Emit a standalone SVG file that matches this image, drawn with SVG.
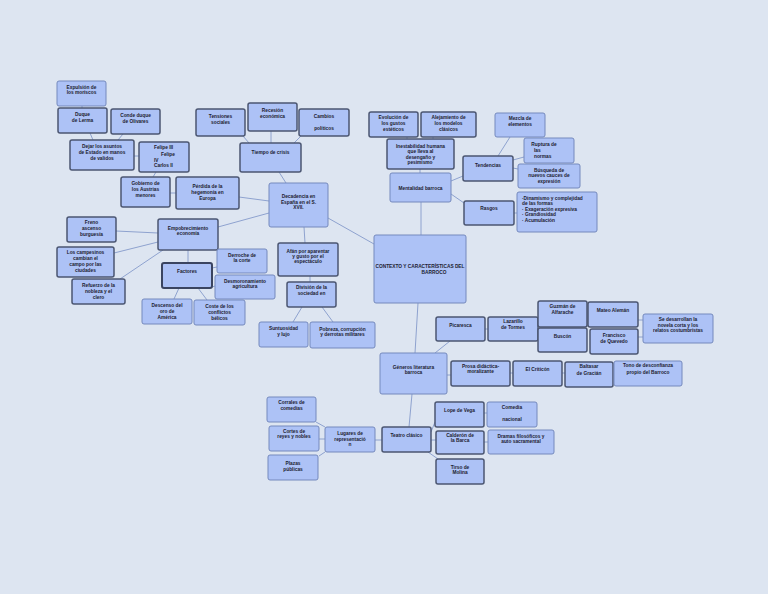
<svg xmlns="http://www.w3.org/2000/svg" width="768" height="594" viewBox="0 0 768 594">
<style>
.bg{fill:#dde5f1}
.n{fill:#adc2f6;stroke:#7489bd;stroke-width:1}
.d{fill:#adc2f6;stroke:#4b5672;stroke-width:1.5}
.k{fill:#adc2f6;stroke:#3a4460;stroke-width:2}
text{font-family:"Liberation Sans",Arial,sans-serif;font-size:4.8px;font-weight:bold;fill:#1c2130;text-anchor:middle}
.l{text-anchor:start}
#connectors line{stroke:#8ea2cf;stroke-width:1}
</style>
<rect class="bg" x="0" y="0" width="768" height="594"/>
<g id="connectors">
<line x1="82" y1="106" x2="82" y2="108"/>
<line x1="90" y1="133" x2="93" y2="140"/>
<line x1="123" y1="134" x2="118" y2="140"/>
<line x1="134" y1="156" x2="139" y2="156"/>
<line x1="156" y1="172" x2="153" y2="177"/>
<line x1="170" y1="193" x2="176" y2="193"/>
<line x1="239" y1="197" x2="269" y2="201"/>
<line x1="243" y1="136" x2="249" y2="143"/>
<line x1="271" y1="131" x2="271" y2="143"/>
<line x1="301" y1="136" x2="294" y2="143"/>
<line x1="279" y1="172" x2="286" y2="183"/>
<line x1="269" y1="213" x2="218" y2="227"/>
<line x1="304" y1="227" x2="305" y2="243"/>
<line x1="328" y1="218" x2="374" y2="244"/>
<line x1="116" y1="231" x2="158" y2="233"/>
<line x1="114" y1="253" x2="158" y2="242"/>
<line x1="120" y1="279" x2="163" y2="250"/>
<line x1="188" y1="250" x2="188" y2="263"/>
<line x1="212" y1="268" x2="217" y2="267"/>
<line x1="212" y1="287" x2="215" y2="286"/>
<line x1="179" y1="288" x2="174" y2="299"/>
<line x1="198" y1="288" x2="207" y2="300"/>
<line x1="310" y1="276" x2="310" y2="282"/>
<line x1="302" y1="307" x2="293" y2="322"/>
<line x1="322" y1="307" x2="333" y2="322"/>
<line x1="421" y1="235" x2="421" y2="202"/>
<line x1="420" y1="173" x2="420" y2="169"/>
<line x1="407" y1="137" x2="407" y2="139"/>
<line x1="433" y1="137" x2="433" y2="139"/>
<line x1="451" y1="181" x2="463" y2="176"/>
<line x1="451" y1="194" x2="464" y2="203"/>
<line x1="498" y1="156" x2="510" y2="137"/>
<line x1="513" y1="160" x2="524" y2="157"/>
<line x1="513" y1="168" x2="518" y2="169"/>
<line x1="514" y1="213" x2="517" y2="213"/>
<line x1="418" y1="303" x2="415" y2="353"/>
<line x1="435" y1="353" x2="450" y2="341"/>
<line x1="485" y1="329" x2="488" y2="329"/>
<line x1="638" y1="320" x2="643" y2="320"/>
<line x1="638" y1="337" x2="643" y2="337"/>
<line x1="447" y1="375" x2="451" y2="375"/>
<line x1="510" y1="373" x2="513" y2="373"/>
<line x1="562" y1="373" x2="565" y2="373"/>
<line x1="412" y1="394" x2="409" y2="427"/>
<line x1="431" y1="432" x2="435" y2="422"/>
<line x1="431" y1="440" x2="436" y2="440"/>
<line x1="428" y1="452" x2="438" y2="459"/>
<line x1="484" y1="413" x2="487" y2="413"/>
<line x1="484" y1="442" x2="488" y2="442"/>
<line x1="382" y1="440" x2="375" y2="440"/>
<line x1="325" y1="427" x2="316" y2="422"/>
<line x1="319" y1="439" x2="325" y2="439"/>
<line x1="319" y1="456" x2="325" y2="452"/>
</g>
<g id="n1"><rect class="n" x="57" y="81" width="49" height="25" rx="2"/><text x="81.5" y="89">Expulsión de</text><text x="81.5" y="94">los moriscos</text></g>
<g id="n2"><rect class="d" x="58" y="108" width="49" height="25" rx="2"/><text x="82.5" y="115.6">Duque</text><text x="82.5" y="121.6">de Lerma</text></g>
<g id="n3"><rect class="d" x="111" y="109" width="49" height="25" rx="2"/><text x="135.5" y="116.6">Conde duque</text><text x="135.5" y="123.3">de Olivares</text></g>
<g id="n4"><rect class="d" x="70" y="140" width="64" height="30" rx="2"/><text x="102" y="148.3">Dejar los asuntos</text><text x="102" y="154">de Estado en manos</text><text x="102" y="160">de validos</text></g>
<g id="n5"><rect class="d" x="139" y="142" width="50" height="30" rx="2"/><text class="l" x="154" y="149.3">Felipe  III</text><text class="l" x="161" y="155.6">Felipe</text><text class="l" x="154" y="161.6">IV</text><text class="l" x="154" y="167">Carlos II</text></g>
<g id="n6"><rect class="d" x="121" y="177" width="49" height="30" rx="2"/><text x="145.5" y="184.6">Gobierno de</text><text x="145.5" y="191">los Austrias</text><text x="145.5" y="197">menores</text></g>
<g id="n7"><rect class="d" x="176" y="177" width="63" height="32" rx="2"/><text x="207.5" y="187.6">Pérdida de la</text><text x="207.5" y="194">hegemonía en</text><text x="207.5" y="200.3">Europa</text></g>
<g id="n8"><rect class="d" x="196" y="109" width="49" height="27" rx="2"/><text x="220.5" y="117.6">Tensiones</text><text x="220.5" y="124.3">sociales</text></g>
<g id="n9"><rect class="d" x="248" y="103" width="49" height="28" rx="2"/><text x="272.5" y="111.6">Recesión</text><text x="272.5" y="117.6">económica</text></g>
<g id="n10"><rect class="d" x="299" y="109" width="50" height="27" rx="2"/><text x="324" y="117.6">Cambios</text><text x="324" y="130.3">políticos</text></g>
<g id="n11"><rect class="d" x="240" y="143" width="61" height="29" rx="2"/><text x="270.5" y="154.3">Tiempo de crisis</text></g>
<g id="n12"><rect class="n" x="269" y="183" width="59" height="44" rx="2"/><text x="298.5" y="198.3">Decadencia en</text><text x="298.5" y="204">España en el S.</text><text x="298.5" y="209.3">XVII.</text></g>
<g id="n13"><rect class="d" x="158" y="219" width="60" height="31" rx="2"/><text x="188" y="230">Empobrecimiento</text><text x="188" y="235">economía</text></g>
<g id="n14"><rect class="d" x="67" y="217" width="49" height="25" rx="2"/><text x="91.5" y="224.3">Freno</text><text x="91.5" y="230.3">ascenso</text><text x="91.5" y="236.3">burguesía</text></g>
<g id="n15"><rect class="d" x="57" y="247" width="57" height="30" rx="2"/><text x="85.5" y="254">Los campesinos</text><text x="85.5" y="260">cambian el</text><text x="85.5" y="265.6">campo por las</text><text x="85.5" y="271.6">ciudades</text></g>
<g id="n16"><rect class="d" x="72" y="279" width="53" height="25" rx="2"/><text x="98.5" y="287">Refuerzo de la</text><text x="98.5" y="292.6">nobleza y el</text><text x="98.5" y="298.6">clero</text></g>
<g id="n17"><rect class="k" x="162" y="263" width="50" height="25" rx="2"/><text x="187" y="272.6">Factores</text></g>
<g id="n18"><rect class="n" x="217" y="249" width="50" height="24" rx="2"/><text x="242" y="256.6">Derroche de</text><text x="242" y="262.3">la corte</text></g>
<g id="n19"><rect class="n" x="215" y="275" width="60" height="24" rx="2"/><text x="245" y="282.6">Desmoronamiento</text><text x="245" y="288">agricultura</text></g>
<g id="n20"><rect class="n" x="142" y="299" width="50" height="25" rx="2"/><text x="167" y="307">Descenso del</text><text x="167" y="312.6">oro de</text><text x="167" y="318.6">América</text></g>
<g id="n21"><rect class="n" x="194" y="300" width="51" height="25" rx="2"/><text x="219.5" y="308.3">Coste de los</text><text x="219.5" y="314">conflictos</text><text x="219.5" y="319.6">bélicos</text></g>
<g id="n22"><rect class="d" x="278" y="243" width="60" height="33" rx="2"/><text x="308" y="252.6">Afán por aparentar</text><text x="308" y="257.6">y gusto por el</text><text x="308" y="263.3">espectáculo</text></g>
<g id="n23"><rect class="d" x="287" y="282" width="49" height="25" rx="2"/><text x="311.5" y="289.3">División de la</text><text x="311.5" y="294.6">sociedad en</text></g>
<g id="n24"><rect class="n" x="259" y="322" width="49" height="25" rx="2"/><text x="283.5" y="330">Suntuosidad</text><text x="283.5" y="335.6">y lujo</text></g>
<g id="n25"><rect class="n" x="310" y="322" width="65" height="26" rx="2"/><text x="342.5" y="330.6">Pobreza, corrupción</text><text x="342.5" y="336">y derrotas militares</text></g>
<g id="n26"><rect class="n" x="374" y="235" width="92" height="68" rx="2"/><text x="420" y="267.6">CONTEXTO Y CARACTERÍSTICAS  DEL</text><text x="434" y="274">BARROCO</text></g>
<g id="n27"><rect class="d" x="369" y="112" width="49" height="25" rx="2"/><text x="393.5" y="119.3">Evolución de</text><text x="393.5" y="125">los gustos</text><text x="393.5" y="130.6">estéticos</text></g>
<g id="n28"><rect class="d" x="421" y="112" width="55" height="25" rx="2"/><text x="448.5" y="119.3">Alejamiento de</text><text x="448.5" y="125">los modelos</text><text x="448.5" y="130.6">clásicos</text></g>
<g id="n29"><rect class="d" x="387" y="139" width="67" height="30" rx="2"/><text x="420.5" y="147.6">Inestabilidad humana</text><text x="420.5" y="153.3">que lleva al</text><text x="420.5" y="159">desengaño y</text><text x="420" y="164.3">pesimismo</text></g>
<g id="n30"><rect class="n" x="390" y="173" width="61" height="29" rx="2"/><text x="420.5" y="190">Mentalidad barroca</text></g>
<g id="n31"><rect class="n" x="495" y="113" width="50" height="24" rx="2"/><text x="520" y="120">Mezcla de</text><text x="520" y="125.6">elementos</text></g>
<g id="n32"><rect class="n" x="524" y="138" width="50" height="25" rx="2"/><text x="544" y="145.6">Ruptura de</text><text class="l" x="534" y="151.6">las</text><text class="l" x="534" y="157.6">normas</text></g>
<g id="n33"><rect class="d" x="463" y="156" width="50" height="25" rx="2"/><text x="488" y="166.6">Tendencias</text></g>
<g id="n34"><rect class="n" x="518" y="164" width="62" height="24" rx="2"/><text x="549" y="171.6">Búsqueda de</text><text x="549" y="177.3">nuevos cauces de</text><text x="549" y="182.6">expresión</text></g>
<g id="n35"><rect class="d" x="464" y="201" width="50" height="24" rx="2"/><text x="489" y="210">Rasgos</text></g>
<g id="n36"><rect class="n" x="517" y="192" width="80" height="40" rx="2"/><text class="l" x="522" y="200">·Dinamismo y  complejidad</text><text class="l" x="522" y="205">de las formas</text><text class="l" x="522" y="211">· Exageración expresiva</text><text class="l" x="522" y="216">· Grandiosidad</text><text class="l" x="522" y="222">· Acumulación</text></g>
<g id="n37"><rect class="d" x="436" y="317" width="49" height="24" rx="2"/><text x="460.5" y="326.6">Picaresca</text></g>
<g id="n38"><rect class="d" x="488" y="317" width="50" height="24" rx="2"/><text x="513" y="323.3">Lazarillo</text><text x="513" y="329.3">de Tormes</text></g>
<g id="n39"><rect class="d" x="538" y="301" width="49" height="26" rx="2"/><text x="562.5" y="308.3">Guzmán de</text><text x="562.5" y="314">Alfarache</text></g>
<g id="n40"><rect class="d" x="588" y="302" width="50" height="25" rx="2"/><text x="613" y="312.3">Mateo Alemán</text></g>
<g id="n41"><rect class="d" x="538" y="328" width="49" height="24" rx="2"/><text x="562.5" y="338">Buscón</text></g>
<g id="n42"><rect class="d" x="590" y="329" width="48" height="25" rx="2"/><text x="614" y="336.6">Francisco</text><text x="614" y="342.6">de Quevedo</text></g>
<g id="n43"><rect class="n" x="643" y="314" width="70" height="29" rx="2"/><text x="678" y="321">Se desarrollan la</text><text x="678" y="326.6">novela corta y los</text><text x="678" y="332.3">relatos costumbristas</text></g>
<g id="n44"><rect class="d" x="451" y="361" width="59" height="25" rx="2"/><text x="480.5" y="368.3">Prosa didáctica-</text><text x="480.5" y="373.3">moralizante</text></g>
<g id="n45"><rect class="d" x="513" y="361" width="49" height="25" rx="2"/><text x="537.5" y="371">El Criticón</text></g>
<g id="n46"><rect class="d" x="565" y="362" width="48" height="25" rx="2"/><text x="589" y="368.3">Baltasar</text><text x="589" y="375">de Gracián</text></g>
<g id="n47"><rect class="n" x="614" y="361" width="68" height="25" rx="2"/><text x="648" y="367.3">Tono de desconfianza</text><text x="648" y="374">propio del Barroco</text></g>
<g id="n48"><rect class="n" x="380" y="353" width="67" height="41" rx="2"/><text x="413.5" y="369.3">Géneros literatura</text><text x="413.5" y="374.3">barroca</text></g>
<g id="n49"><rect class="d" x="382" y="427" width="49" height="25" rx="2"/><text x="406.5" y="437">Teatro clásico</text></g>
<g id="n50"><rect class="d" x="435" y="402" width="49" height="25" rx="2"/><text x="459.5" y="411.6">Lope de Vega</text></g>
<g id="n51"><rect class="n" x="487" y="402" width="50" height="25" rx="2"/><text x="512" y="409.3">Comedia</text><text x="512" y="421">nacional</text></g>
<g id="n52"><rect class="d" x="436" y="431" width="48" height="23" rx="2"/><text x="460" y="436.6">Calderón de</text><text x="460" y="442.3">la Barca</text></g>
<g id="n53"><rect class="n" x="488" y="430" width="66" height="24" rx="2"/><text x="521" y="438.3">Dramas filosóficos y</text><text x="521" y="443.3">auto sacramental</text></g>
<g id="n54"><rect class="d" x="436" y="459" width="48" height="25" rx="2"/><text x="460" y="469">Tirso de</text><text x="460" y="474.3">Molina</text></g>
<g id="n55"><rect class="n" x="325" y="427" width="50" height="25" rx="2"/><text x="350" y="435">Lugares de</text><text x="350" y="440.6">representació</text><text x="350" y="446">n</text></g>
<g id="n56"><rect class="n" x="267" y="397" width="49" height="25" rx="2"/><text x="291.5" y="404.3">Corrales de</text><text x="291.5" y="410">comedias</text></g>
<g id="n57"><rect class="n" x="269" y="426" width="50" height="25" rx="2"/><text x="294" y="432.6">Cortes de</text><text x="294" y="438.3">reyes y nobles</text></g>
<g id="n58"><rect class="n" x="268" y="455" width="50" height="25" rx="2"/><text x="293" y="465">Plazas</text><text x="293" y="470.6">públicas</text></g>
</svg>
